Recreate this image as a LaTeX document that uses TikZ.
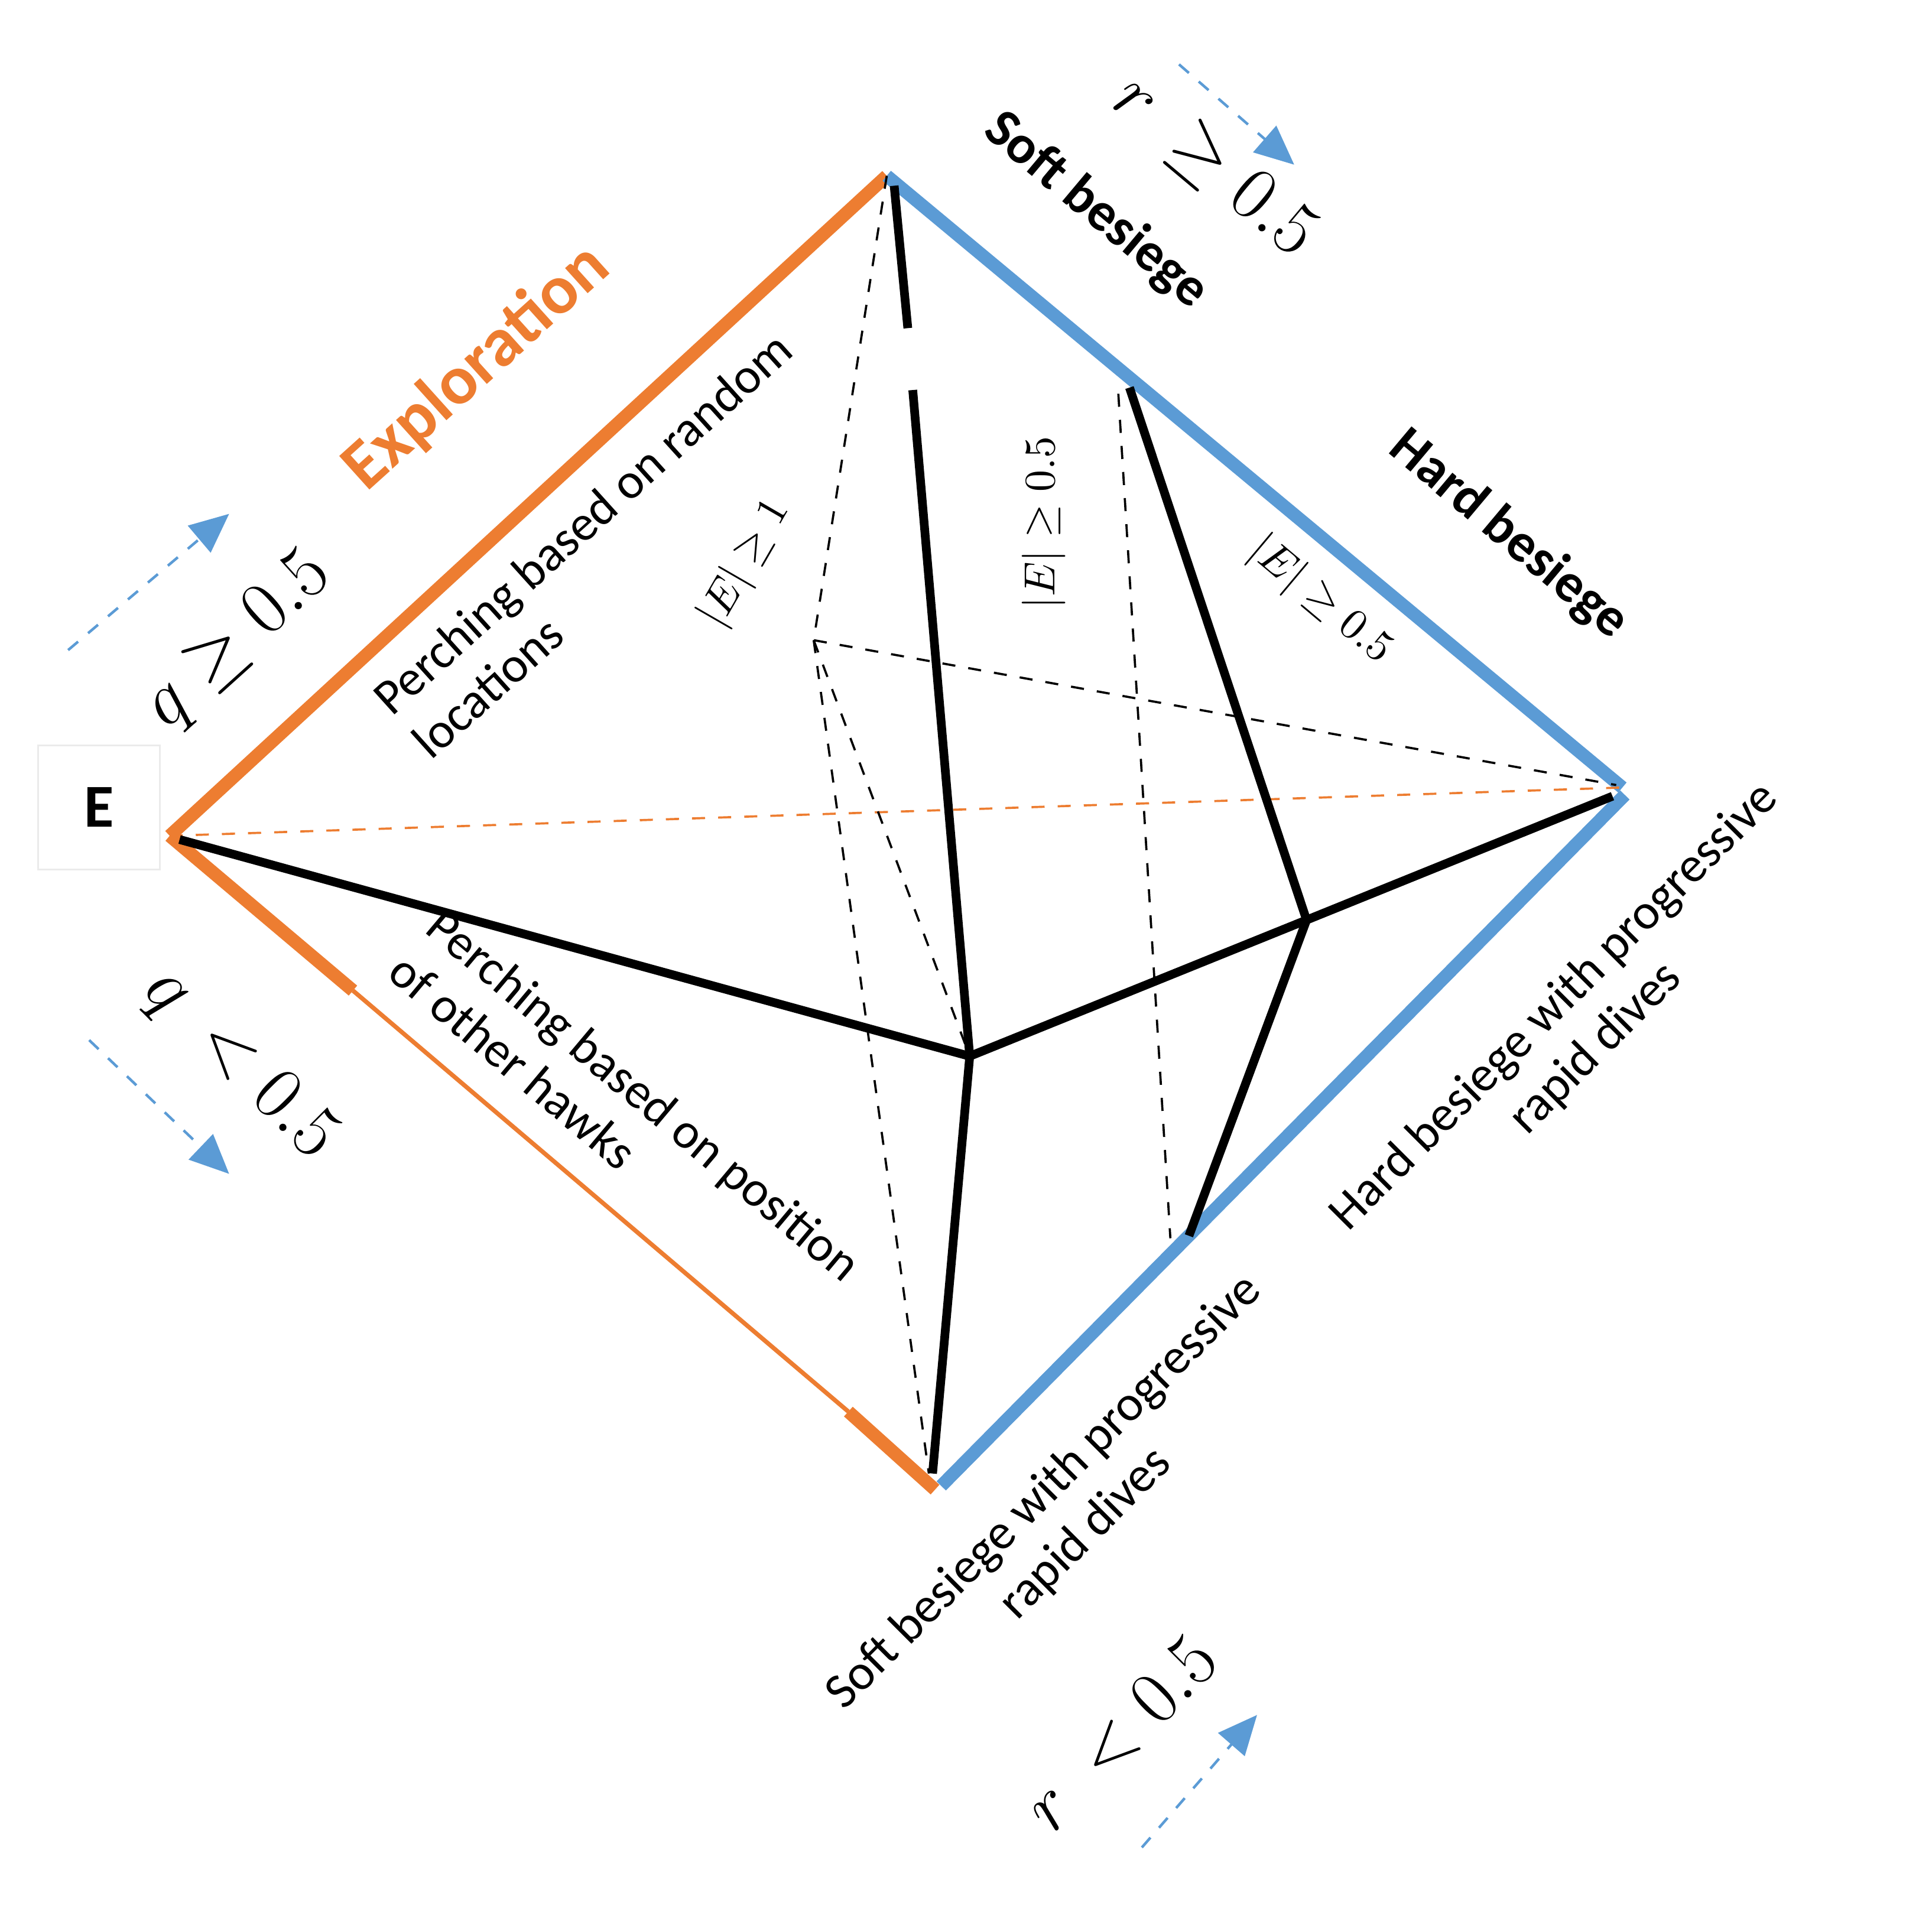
\documentclass[tikz,border=0pt]{standalone}
\usepackage{fontspec}
\setmainfont{Carlito}
\usetikzlibrary{arrows.meta}
\definecolor{org}{RGB}{237,125,49}
\definecolor{blu}{RGB}{91,155,213}
\tikzset{
 lbl/.style={font=\fontsize{11.5}{13.5}\selectfont, align=center},
 bold/.style={font=\fontsize{12.5}{14}\selectfont\bfseries},
 mathl/.style={font=\fontsize{17}{19}\selectfont},
 elbl/.style={font=\fontsize{10}{12}\selectfont},
 blk/.style={line width=2pt},
 thin dash/.style={dashed, line width=0.5pt},
 barrow/.style={dashed, blu, line width=0.6pt, -{Triangle[length=9pt,width=8pt]}},
}
\begin{document}
\begin{tikzpicture}[x={(0.01cm,0)},y={(0,-0.01cm)}]
\useasboundingbox (0,0) rectangle (1560,1551);
\coordinate (L) at (137,675); \coordinate (T) at (716,142);
\coordinate (R) at (1310,636); \coordinate (B) at (755,1203);
\coordinate (Lb) at (145,678); \coordinate (M) at (783,853);
\coordinate (N) at (1055,743); \coordinate (C) at (657,517);
% orange edges
\draw[org, line width=3pt] (L) -- (T);
\draw[org, line width=3pt] (L) -- (285,800) coordinate (o1);
\draw[org, line width=1pt] (o1) -- (685,1140) coordinate (o2);
\draw[org, line width=3pt] (o2) -- (B);
% blue edges
\draw[blu, line width=3pt] (T) -- (R);
\draw[blu, line width=3pt] (760,1200) coordinate (b0) -- (1312,642) coordinate (b1);
% dashed
\draw[org, thin dash] (L) -- (R);
\draw[thin dash] (T) -- (C) -- (1305,634);
\draw[thin dash] (C) -- (M);
\draw[thin dash] (C) -- (750,1190);
\draw[thin dash] (903,318) -- (945,1000);
% black thick
\draw[blk] (722,150) -- (733,265);
\draw[blk] (737,315) -- (M);
\draw[blk] (Lb) -- (M) -- (N) -- (1302,643);
\draw[blk] (912,313) -- (N) -- (960,998);
\draw[blk] (M) -- (753,1190);
% labels
\node[text=org, font=\fontsize{16}{18}\selectfont\bfseries, rotate=42] (ex) at (385,297) {Exploration};
\node[lbl, align=left, rotate=42] (p1) at (486,440) {Perching based on random\\locations};
\node[elbl, rotate=60] (e1) at (602,455) {$|E|\geq 1$};
\node[elbl, rotate=90] (e2) at (843,422) {$|E|\geq 0.5$};
\node[elbl, rotate=-40] (e3) at (1066,485) {$|E|\geq 0.5$};
\node[bold, rotate=-40] (sb) at (885,170) {Soft besiege};
\node[mathl, rotate=-40] (r1) at (980,135) {$r\ \geq 0.5$};
\node[bold, rotate=-40] (hb) at (1218,432) {Hard besiege};
\node[lbl, rotate=45] (hbd) at (1272,830) {Hard besiege with progressive\\rapid dives};
\node[lbl, rotate=45] (sbd) at (860,1222) {Soft besiege with progressive\\rapid dives};
\node[mathl, rotate=45] (r2) at (905,1400) {$r\ <0.5$};
\node[mathl, rotate=42] (q1) at (193,518) {$q\geq 0.5$};
\node[mathl, rotate=-45] (q2) at (193,860) {$q\ <0.5$};
\node[draw=black!8, font=\fontsize{14}{16}\selectfont\bfseries, minimum width=0.98cm, minimum height=1cm] (E) at (80,652) {E};
\node[lbl, align=left, rotate=-40] (p2) at (505,902) {Perching based on position\\of other hawks};
% arrows
\coordinate (a1) at (55,525); \coordinate (a2) at (185,415);
\coordinate (a3) at (72,840); \coordinate (a4) at (185,948);
\coordinate (a5) at (952,52); \coordinate (a6) at (1045,133);
\coordinate (a7) at (922,1492); \coordinate (a8) at (1015,1385);
\draw[barrow] (a1) -- (a2);
\draw[barrow] (a3) -- (a4);
\draw[barrow] (a5) -- (a6);
\draw[barrow] (a7) -- (a8);
\end{tikzpicture}
\end{document}
